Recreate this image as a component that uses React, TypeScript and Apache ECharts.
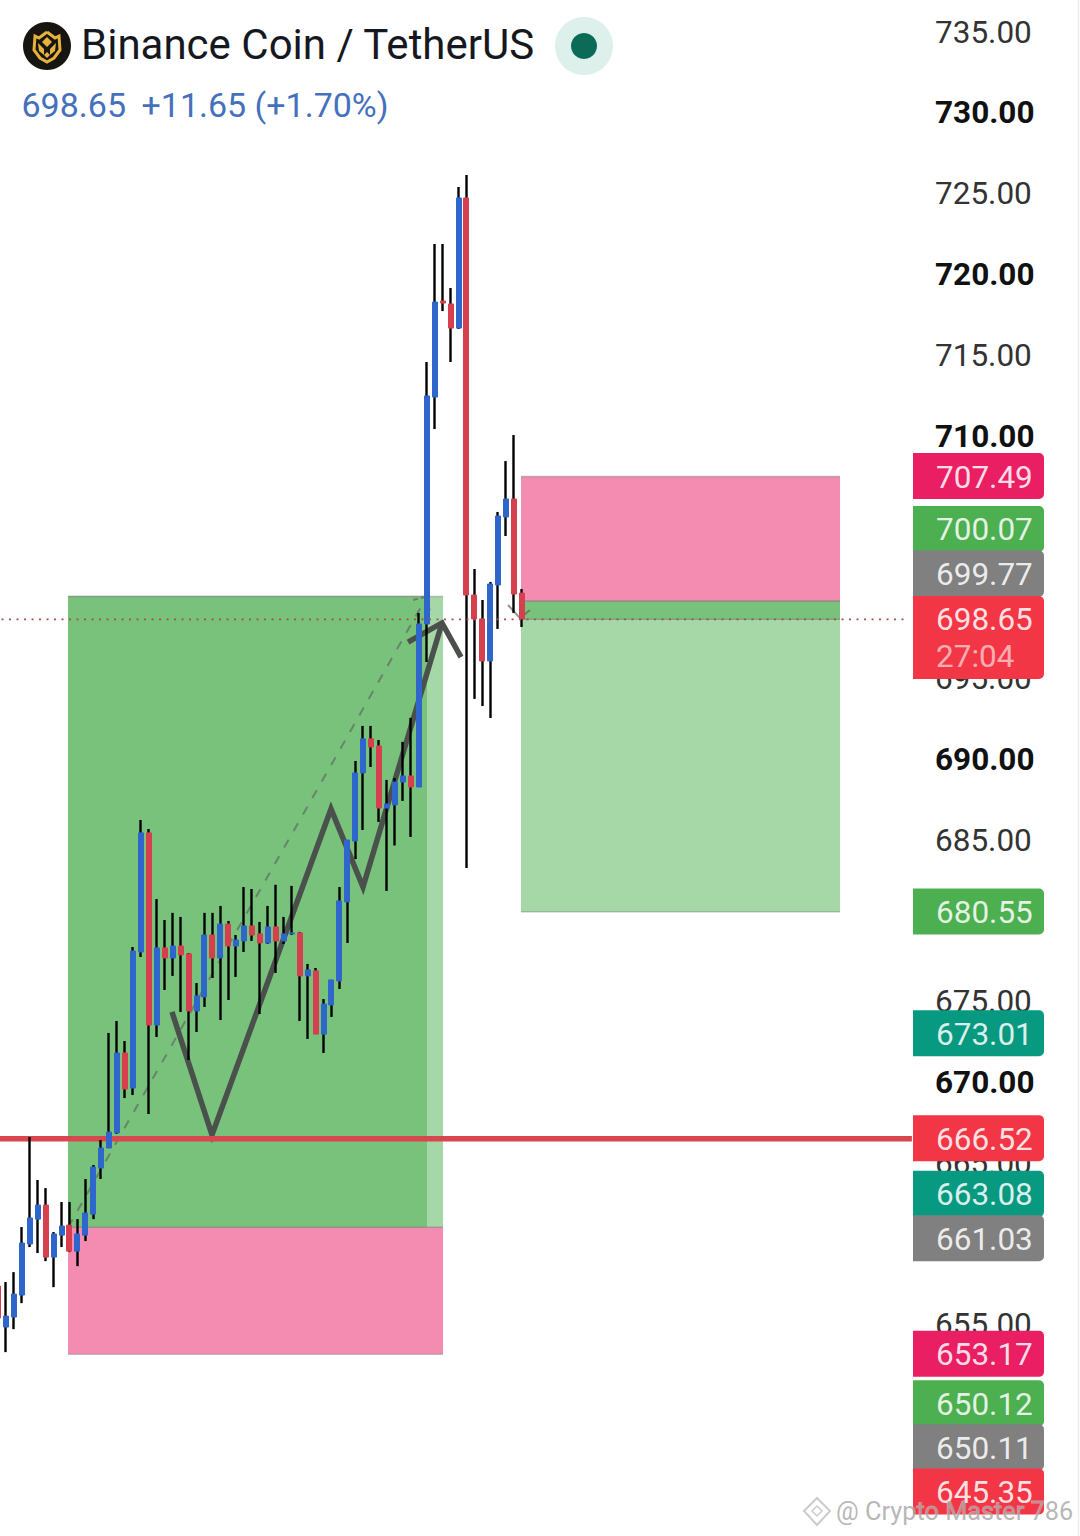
import React, { useEffect, useRef } from "react";
import * as echarts from "echarts";

// Prices, one entry per candle, left to right
const opens = [657.40,654.86,655.48,656.84,660.00,661.54,662.41,659.19,660.55,661.17,659.56,660.55,661.85,664.70,665.94,666.87,671.82,669.65,678.07,685.44,673.55,678.32,677.70,678.44,677.95,674.42,675.29,679.12,677.70,679.80,678.44,678.75,679.68,679.19,678.63,679.62,678.75,679.19,679.25,676.59,676.90,672.99,674.79,676.28,681.17,684.94,689.15,691.26,690.82,686.98,687.17,688.59,688.96,688.28,698.37,712.41,718.35,718.17,716.68,724.73,700.16,698.68,696.08,700.78,704.99,706.10,700.28];
const closes = [655.42,655.54,656.90,660.06,661.61,662.41,659.19,660.62,661.11,659.56,660.62,661.92,664.76,665.94,666.93,671.82,669.59,678.13,685.44,673.55,678.32,677.70,678.44,677.89,674.42,675.35,679.12,677.70,679.80,678.44,678.81,679.68,679.12,678.63,679.62,678.75,679.19,679.25,676.59,676.96,672.99,674.85,676.34,681.23,685.00,689.15,691.26,690.76,686.98,687.23,688.59,688.96,688.28,698.37,712.48,718.29,718.23,716.68,724.73,700.16,698.68,696.08,700.84,705.05,706.10,700.22,698.68];
const lows = [654.68,653.31,654.73,656.34,659.81,659.44,658.94,657.33,659.81,659.50,658.63,660.18,661.54,664.02,665.94,666.81,669.03,669.22,677.76,668.04,672.81,675.72,676.59,674.36,671.39,673.12,674.67,676.46,673.86,675.10,676.52,678.07,678.75,674.23,678.57,676.77,678.57,679.12,673.80,672.69,672.99,671.82,674.05,675.78,678.63,683.82,685.62,689.52,686.12,681.85,684.66,687.42,685.19,688.28,696.02,710.43,717.73,714.58,716.62,683.27,693.73,693.29,692.55,698.06,703.81,699.05,698.18];
const highs = [657.65,657.65,658.26,661.05,666.62,663.96,663.46,660.74,662.60,662.60,661.54,664.02,664.89,666.43,673.06,673.80,672.56,678.38,686.24,685.68,681.35,680.05,680.49,680.24,678.01,676.15,680.49,680.49,680.92,679.99,679.12,682.09,681.97,679.93,680.92,682.23,680.24,682.16,679.31,677.33,677.08,675.16,676.34,682.09,685.00,689.89,692.06,692.06,691.19,688.72,688.84,691.07,692.56,699.05,714.58,721.88,721.88,719.16,725.41,726.15,701.77,699.85,700.97,705.30,708.45,710.06,700.53];

// Slots along the time axis; the ones after the last candle are empty
const slotCount = 137;
const timeSlots = Array.from({ length: slotCount }, (_, i) => String(i));

// Position tools: [from slot, to slot, upper price, lower price, colour]
const zones: [number, number, number, number, string][] = [
  [8.82, 56.05, 700.07, 661.03, "#A5D7A7"],
  [8.82, 54.03, 700.07, 661.03, "#79C27B"],
  [8.82, 56.05, 661.03, 653.17, "#F48CB1"],
  [65.87, 106.05, 707.49, 699.77, "#F48CB1"],
  [65.87, 106.05, 699.77, 698.65, "#79C27B"],
  [65.87, 106.05, 698.65, 680.55, "#A5D7A7"],
];

const supportPrice = 666.52;
const lastPrice = 698.65;

// Hand-drawn pattern [slot, price]
const patternPath = [[21.91,674.36],[26.95,666.75],[41.94,686.92],[45.97,682.09],[55.92,698.43]];
const patternHead = [[51.64,697.25],[55.92,698.43],[58.31,696.32]];
const longTrend = [[8.82,661.03],[54.03,700.07]];
const longTrendHead = [[52.27,699.85],[54.03,700.07],[54.4,699.1]];
const shortTrendHead = [[64.23,699.54],[65.74,698.73],[67,699.23]];

// Scale ticks that lie wholly behind a price tag in the picture
const coveredTicks = [705, 700, 680, 660, 650, 645];

// Price tags on the scale
const tagPrices = [707.49,700.07,699.77,698.65,680.55,673.01,666.52,663.08,661.03,653.17,650.12,650.11,645.35];
const tagColors = ["#E91E63","#4CAF50","#808080","#F23645","#4CAF50","#089981","#F23645","#089981","#808080","#E91E63","#4CAF50","#808080","#F23645"];
const tagShifts = [0,-67,-27.2,0,0,0,0,0,11.4,0,0,44,11.3];
const countdown = "27:04";

const BLUE = "#2F66CC";
const RED = "#D6404E";
const FONT = "Roboto";

const SLOT_W = 7.94;
const GRID_LEFT = -5.97;
const GRID_W = slotCount * SLOT_W;
const GOLD = "#E6B23C";

const bodies = opens.map((o, i) => [o, closes[i], Math.min(o, closes[i]), Math.max(o, closes[i])]);
const wicks = opens.map((o, i) => [o, closes[i], lows[i], highs[i]]);

function logo() {
  const g = (points: number[][], fill = false) =>
    fill
      ? { type: "polygon", z: 50, shape: { points }, style: { fill: GOLD } }
      : { type: "polyline", z: 50, shape: { points }, style: { stroke: GOLD, lineWidth: 3, fill: "none" } };
  return [
    { type: "circle", z: 49, shape: { cx: 47, cy: 46, r: 24 }, style: { fill: "#16150F" } },
    g([[47,32],[55,38],[59,36],[60,50],[54,58],[47,62],[40,58],[34,50],[35,36],[39,38],[47,32]]),
    g([[47,37],[52,42],[47,47],[42,42]], true),
    g([[38,43],[44,49],[44,55],[39,51]], true),
    g([[56,43],[50,49],[50,55],[55,51]], true),
    g([[44,55],[47,58],[50,55],[47,52]], true),
  ];
}

export default function App() {
  const ref = useRef<HTMLDivElement>(null);
  useEffect(() => {
    document.body.style.margin = "0";
    document.body.style.background = "#fff";
    const chart = echarts.init(ref.current!, null, { renderer: "svg" });

    const thin = (data: number[][], z: number, style: object) => ({
      type: "line" as const, xAxisIndex: 1, yAxisIndex: 0, data, z, showSymbol: false, symbol: "none", silent: true,
      clip: false, lineStyle: style,
    });

    chart.setOption({
      animation: false,
      backgroundColor: "#ffffff",
      tooltip: { show: false },
      grid: { left: GRID_LEFT, width: GRID_W, top: 32, height: 1454.4, containLabel: false, outerBoundsMode: "none" },
      xAxis: [
        { type: "category", data: timeSlots, show: false, boundaryGap: true },
        { type: "value", min: -0.5, max: slotCount - 0.5, show: false, scale: true, splitLine: { show: false } },
      ],
      yAxis: {
        type: "value", position: "right", min: 645, max: 735, interval: 5,
        splitLine: { show: false }, axisLine: { show: false }, axisTick: { show: false },
        axisLabel: {
          inside: true, margin: GRID_LEFT + GRID_W - 935, align: "left", fontFamily: FONT, fontSize: 31.5, color: "#2E2E2E",
          hideOverlap: false, showMinLabel: true, showMaxLabel: true,
          formatter: (v: number) =>
            coveredTicks.includes(v) ? "" : v % 10 === 0 ? `{b|${v.toFixed(2)}}` : `{n|${v.toFixed(2)}}`,
          rich: {
            b: { fontFamily: FONT, fontSize: 31.5, fontWeight: "bold", color: "#111111" },
            n: { fontFamily: FONT, fontSize: 31.5, color: "#333333" },
          },
        },
      },
      series: [
        {
          type: "custom", xAxisIndex: 1, yAxisIndex: 0, z: 1, silent: true, clip: false,
          data: zones.map((zone) => ({ value: zone.slice(0, 4) })),
          encode: { x: [0, 1], y: [2, 3] },
          renderItem: (params: any, api: any) => {
            const a = api.coord([api.value(0), api.value(2)]);
            const b = api.coord([api.value(1), api.value(3)]);
            const edge = (y: number) => ({
              type: "line", shape: { x1: a[0], y1: y, x2: b[0], y2: y },
              style: { stroke: "rgba(110,110,115,0.4)", lineWidth: 1.4 },
            });
            return {
              type: "group",
              children: [
                { type: "rect", shape: { x: a[0], y: a[1], width: b[0] - a[0], height: b[1] - a[1] }, style: { fill: zones[params.dataIndex][4] } },
                edge(a[1]), edge(b[1]),
              ],
            };
          },
        },
        thin(longTrend, 2, { color: "#5C5C5C", opacity: 0.6, width: 2, type: [9, 10] }),
        thin(longTrendHead, 2, { color: "#5C5C5C", opacity: 0.6, width: 2, type: [5, 3] }),
        thin(shortTrendHead, 2, { color: "#5C5C5C", opacity: 0.65, width: 2 }),
        thin(patternPath, 3, { color: "#4A514C", width: 5.5, join: "miter" }),
        thin(patternHead, 3, { color: "#4A514C", width: 5.5, join: "miter" }),
        thin([[-0.5, supportPrice], [115.1, supportPrice]], 3, { color: "#D8464F", width: 5.5 }),
        thin([[-0.5, lastPrice], [114.5, lastPrice]], 6, { color: "#A5504C", width: 1.6, type: [2, 5.5] }),
        {
          type: "candlestick", xAxisIndex: 0, yAxisIndex: 0, z: 4, silent: true, barWidth: 1, data: wicks,
          itemStyle: { color: "#000", color0: "#000", borderColor: "#000", borderColor0: "#000", borderWidth: 2.4 },
        },
        {
          type: "candlestick", xAxisIndex: 0, yAxisIndex: 0, z: 5, silent: true, barWidth: 5.5, data: bodies,
          itemStyle: { color: BLUE, color0: RED, borderColor: BLUE, borderColor0: RED, borderWidth: 1 },
        },
        {
          type: "custom", xAxisIndex: 1, yAxisIndex: 0, z: 10, silent: true, clip: false,
          data: tagPrices.map((p, i) => [110, p, i]),
          encode: { x: 0, y: 1 },
          renderItem: (_: any, api: any) => {
            const i = api.value(2);
            const price = api.value(1);
            const cy = api.coord([110, price])[1] + tagShifts[i];
            const isLast = price === lastPrice;
            const top = cy - 23.5;
            const children: any[] = [
              {
                type: "rect", shape: { x: 913, y: top, width: 131, height: isLast ? 83 : 46, r: [0, 5, 5, 0] },
                style: { fill: tagColors[i] },
              },
              {
                type: "text", x: 936, y: cy + 0.5,
                style: { text: price.toFixed(2), fill: "rgba(255,255,255,0.86)", fontFamily: FONT, fontSize: 31.5, verticalAlign: "middle", align: "left" },
              },
            ];
            if (isLast) {
              children.push({
                type: "text", x: 936, y: cy + 37,
                style: { text: countdown, fill: "rgba(255,255,255,0.6)", fontFamily: FONT, fontSize: 31.5, verticalAlign: "middle", align: "left" },
              });
            }
            return { type: "group", children };
          },
        },
      ],
      graphic: {
        z: 100,
        elements: [
          { type: "line", z: 40, shape: { x1: 1078.5, y1: 0, x2: 1078.5, y2: 1536 }, style: { stroke: "#EDEDED", lineWidth: 1.5 } },
          ...logo(),
          {
            type: "text", z: 50, x: 81, y: 44,
            style: { text: "Binance Coin / TetherUS", fontFamily: FONT, fontSize: 42, fill: "#16181F", verticalAlign: "middle" },
          },
          {
            type: "text", z: 50, x: 21.5, y: 104.5,
            style: { text: "698.65", fontFamily: FONT, fontSize: 34, fill: "#4571BC", verticalAlign: "middle" },
          },
          {
            type: "text", z: 50, x: 141.5, y: 104.5,
            style: { text: "+11.65 (+1.70%)", fontFamily: FONT, fontSize: 34, fill: "#4571BC", verticalAlign: "middle" },
          },
          { type: "ellipse", z: 50, shape: { cx: 584, cy: 46, rx: 29, ry: 29 }, style: { fill: "#DDF0EC" } },
          { type: "circle", z: 51, shape: { cx: 584, cy: 46, r: 13 }, style: { fill: "#0B6B57" } },
          { type: "polygon", z: 60, shape: { points: [[817,1498],[830,1511],[817,1525],[804,1511]] }, style: { fill: "rgba(255,255,255,0.55)", stroke: "rgba(190,190,190,0.8)", lineWidth: 2 } },
          { type: "polygon", z: 60, shape: { points: [[817,1506],[822,1511],[817,1516],[812,1511]] }, style: { fill: "rgba(255,255,255,0.5)", stroke: "rgba(190,190,190,0.8)", lineWidth: 1.5 } },
          {
            type: "text", z: 60, x: 836, y: 1511,
            style: { text: "@ Crypto Master 786", fontFamily: FONT, fontSize: 25.3, fill: "rgba(165,165,165,0.8)", stroke: "rgba(255,255,255,0.4)", lineWidth: 1, verticalAlign: "middle" },
          },
        ],
      },
    });
    return () => chart.dispose();
  }, []);
  return <div ref={ref} style={{ position: "absolute", left: 0, top: 0, width: 1080, height: 1536 }} />;
}
